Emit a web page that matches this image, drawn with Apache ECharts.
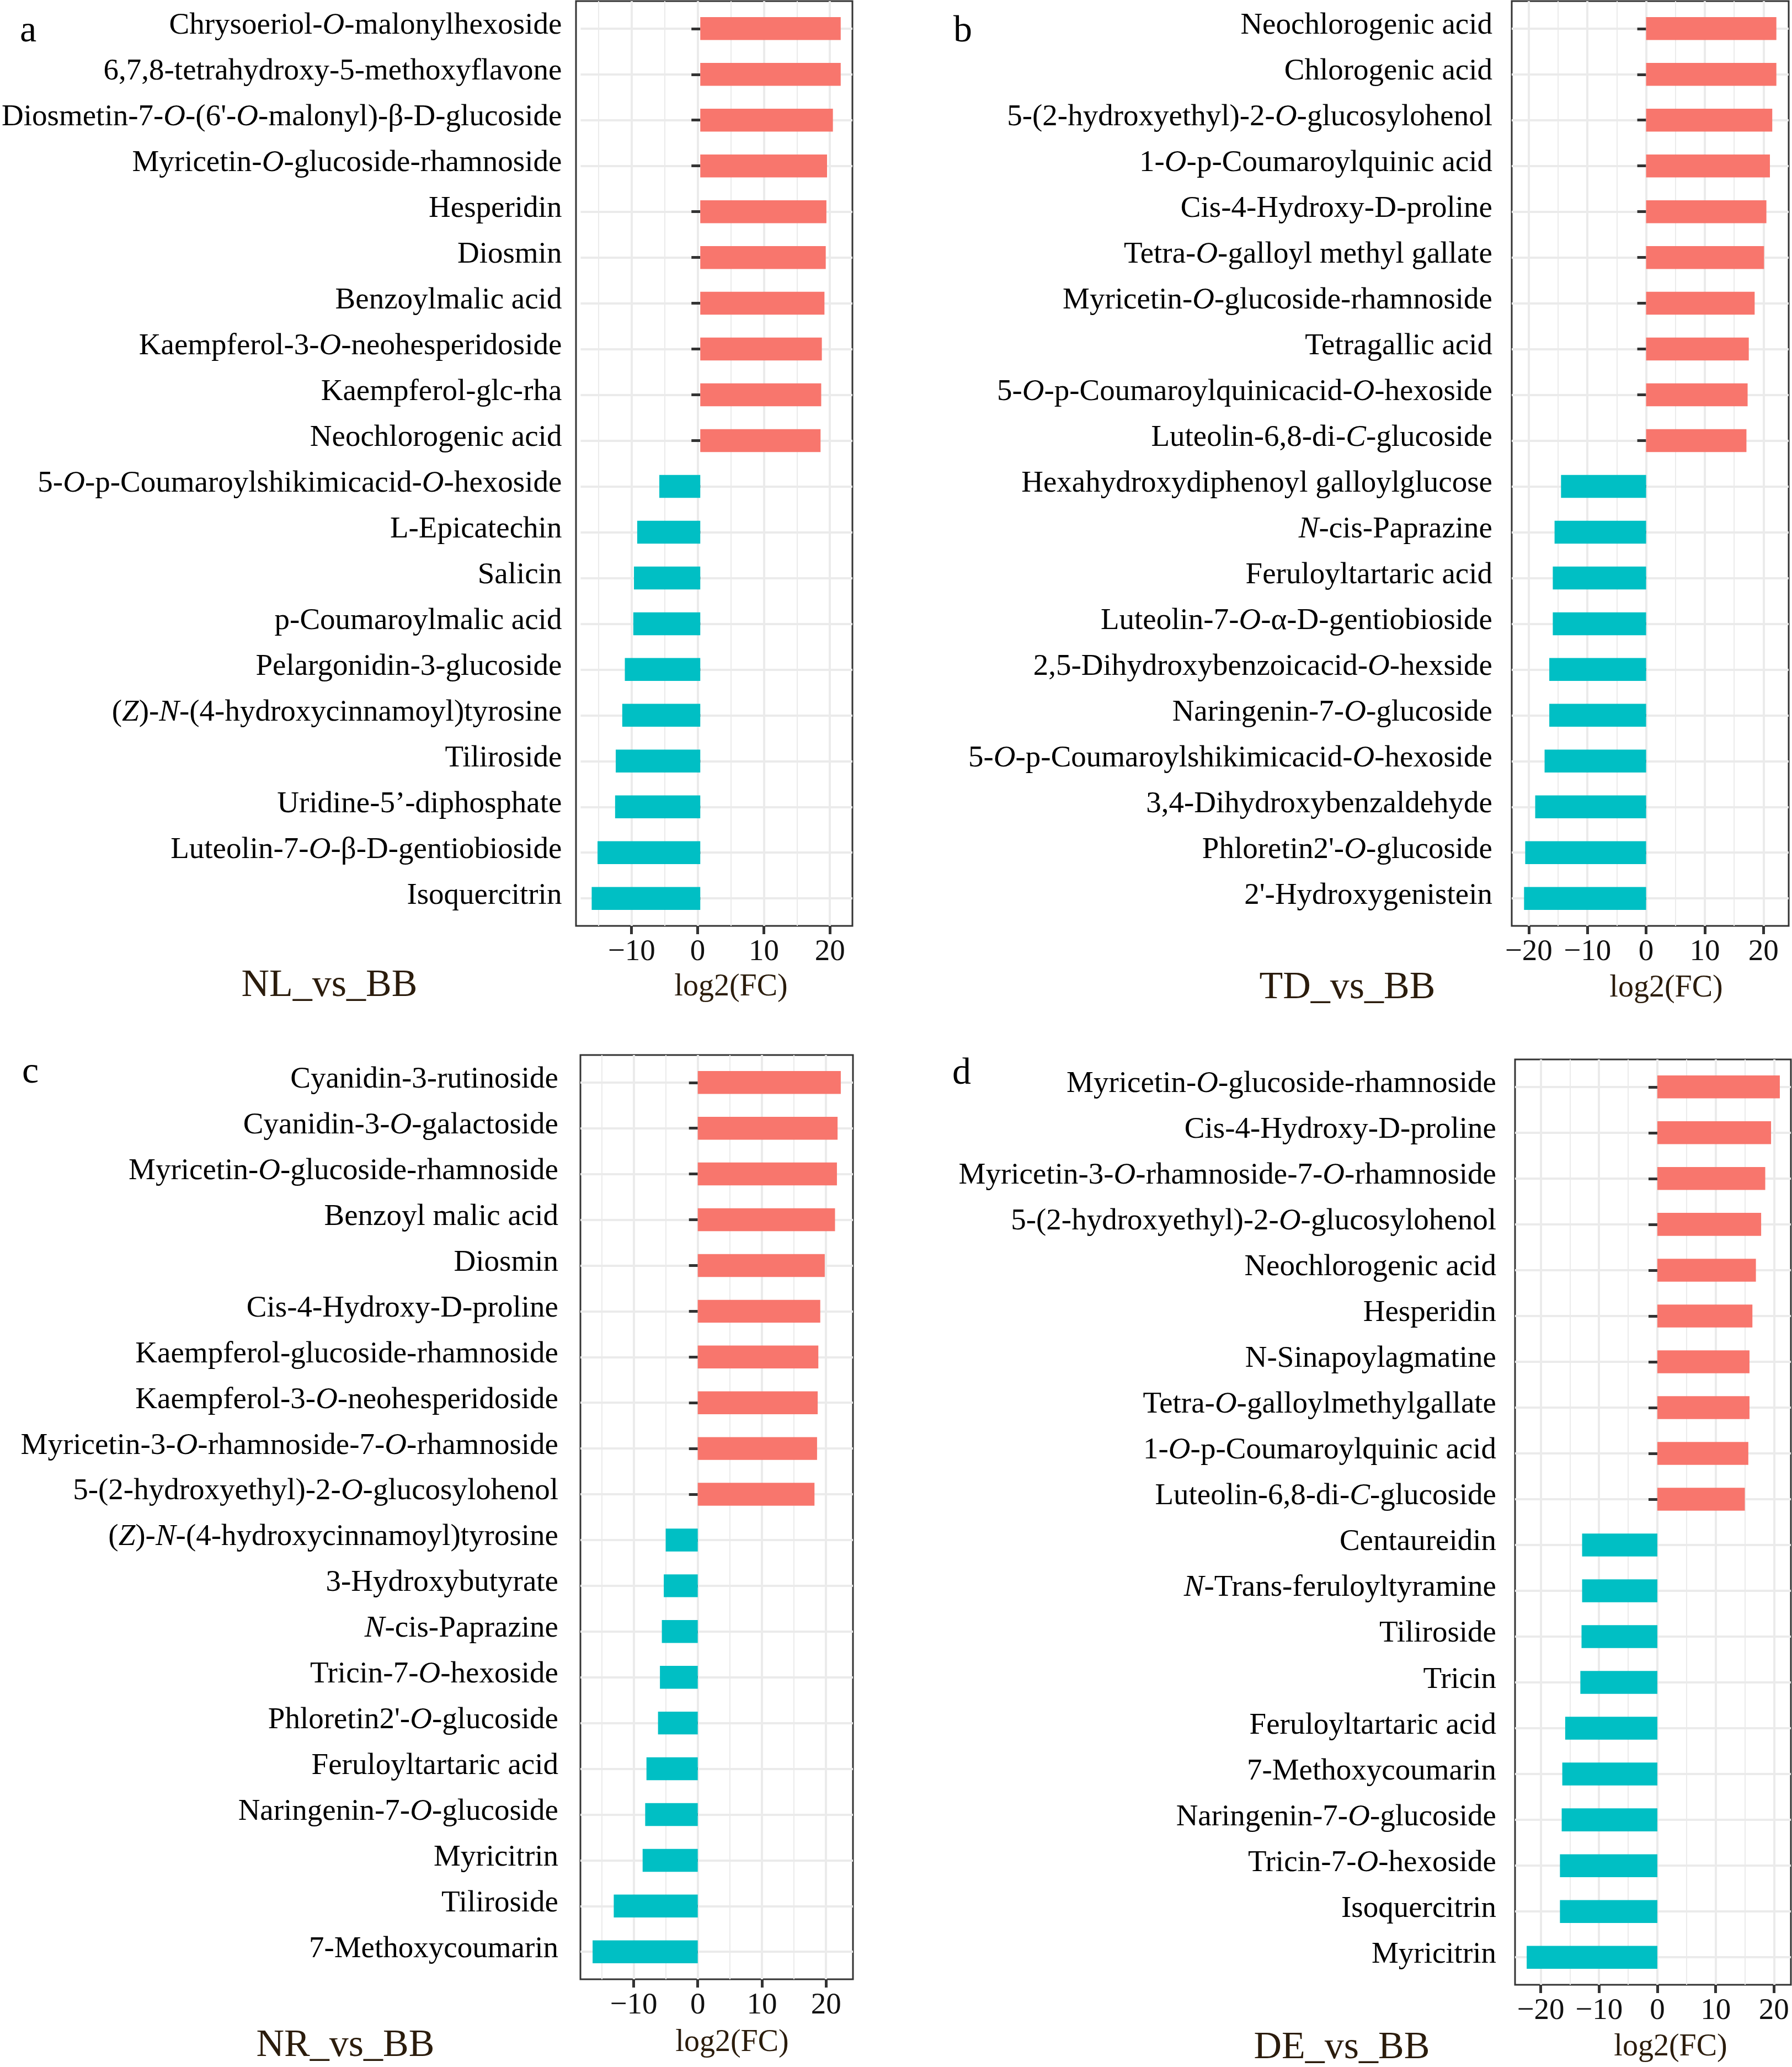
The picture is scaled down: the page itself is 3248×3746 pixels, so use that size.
<!DOCTYPE html>
<html>
<head>
<meta charset="utf-8">
<title>log2(FC) of differential metabolites</title>
<script src="https://cdn.jsdelivr.net/npm/echarts@6/dist/echarts.min.js"></script>
<style>
  html, body { margin: 0; padding: 0; background: #fff; }
  #main { width: 3248px; height: 3746px; }
</style>
</head>
<body>
<div id="main"></div>
<script>
// names top -> bottom, <i>..</i> marks italic parts
var namesNL = [
  'Chrysoeriol-<i>O</i>-malonylhexoside', '6,7,8-tetrahydroxy-5-methoxyflavone',
  "Diosmetin-7-<i>O</i>-(6'-<i>O</i>-malonyl)-β-D-glucoside", 'Myricetin-<i>O</i>-glucoside-rhamnoside',
  'Hesperidin', 'Diosmin', 'Benzoylmalic acid', 'Kaempferol-3-<i>O</i>-neohesperidoside',
  'Kaempferol-glc-rha', 'Neochlorogenic acid', '5-<i>O</i>-p-Coumaroylshikimicacid-<i>O</i>-hexoside',
  'L-Epicatechin', 'Salicin', 'p-Coumaroylmalic acid', 'Pelargonidin-3-glucoside',
  '(<i>Z</i>)-<i>N</i>-(4-hydroxycinnamoyl)tyrosine', 'Tiliroside', 'Uridine-5\u2019-diphosphate',
  'Luteolin-7-<i>O</i>-β-D-gentiobioside', 'Isoquercitrin'
]
var valuesNL = [21.6, 21.6, 20.4, 19.5, 19.4, 19.3, 19.1, 18.7, 18.6, 18.5,
  -6.3, -9.7, -10.2, -10.3, -11.6, -12.0, -13.0, -13.1, -15.8, -16.7]

var namesTD = [
  'Neochlorogenic acid', 'Chlorogenic acid', '5-(2-hydroxyethyl)-2-<i>O</i>-glucosylohenol',
  '1-<i>O</i>-p-Coumaroylquinic acid', 'Cis-4-Hydroxy-D-proline', 'Tetra-<i>O</i>-galloyl methyl gallate',
  'Myricetin-<i>O</i>-glucoside-rhamnoside', 'Tetragallic acid', '5-<i>O</i>-p-Coumaroylquinicacid-<i>O</i>-hexoside',
  'Luteolin-6,8-di-<i>C</i>-glucoside', 'Hexahydroxydiphenoyl galloylglucose', '<i>N</i>-cis-Paprazine',
  'Feruloyltartaric acid', 'Luteolin-7-<i>O</i>-α-D-gentiobioside', '2,5-Dihydroxybenzoicacid-<i>O</i>-hexside',
  'Naringenin-7-<i>O</i>-glucoside', '5-<i>O</i>-p-Coumaroylshikimicacid-<i>O</i>-hexoside',
  '3,4-Dihydroxybenzaldehyde', "Phloretin2'-<i>O</i>-glucoside", "2'-Hydroxygenistein"
]
var valuesTD = [22.2, 22.2, 21.5, 21.1, 20.5, 20.1, 18.5, 17.5, 17.3, 17.1,
  -14.5, -15.6, -15.9, -15.9, -16.5, -16.5, -17.3, -18.9, -20.6, -20.8]

var namesNR = [
  'Cyanidin-3-rutinoside', 'Cyanidin-3-<i>O</i>-galactoside', 'Myricetin-<i>O</i>-glucoside-rhamnoside',
  'Benzoyl malic acid', 'Diosmin', 'Cis-4-Hydroxy-D-proline', 'Kaempferol-glucoside-rhamnoside',
  'Kaempferol-3-<i>O</i>-neohesperidoside', 'Myricetin-3-<i>O</i>-rhamnoside-7-<i>O</i>-rhamnoside',
  '5-(2-hydroxyethyl)-2-<i>O</i>-glucosylohenol', '(<i>Z</i>)-<i>N</i>-(4-hydroxycinnamoyl)tyrosine',
  '3-Hydroxybutyrate', '<i>N</i>-cis-Paprazine', 'Tricin-7-<i>O</i>-hexoside', "Phloretin2'-<i>O</i>-glucoside",
  'Feruloyltartaric acid', 'Naringenin-7-<i>O</i>-glucoside', 'Myricitrin', 'Tiliroside', '7-Methoxycoumarin'
]
var valuesNR = [22.3, 21.8, 21.7, 21.4, 19.8, 19.1, 18.8, 18.7, 18.6, 18.2,
  -5.0, -5.3, -5.6, -5.9, -6.2, -8.0, -8.2, -8.6, -13.1, -16.4]

var namesDE = [
  'Myricetin-<i>O</i>-glucoside-rhamnoside', 'Cis-4-Hydroxy-D-proline',
  'Myricetin-3-<i>O</i>-rhamnoside-7-<i>O</i>-rhamnoside', '5-(2-hydroxyethyl)-2-<i>O</i>-glucosylohenol',
  'Neochlorogenic acid', 'Hesperidin', 'N-Sinapoylagmatine', 'Tetra-<i>O</i>-galloylmethylgallate',
  '1-<i>O</i>-p-Coumaroylquinic acid', 'Luteolin-6,8-di-<i>C</i>-glucoside', 'Centaureidin',
  '<i>N</i>-Trans-feruloyltyramine', 'Tiliroside', 'Tricin', 'Feruloyltartaric acid', '7-Methoxycoumarin',
  'Naringenin-7-<i>O</i>-glucoside', 'Tricin-7-<i>O</i>-hexoside', 'Isoquercitrin', 'Myricitrin'
]
var valuesDE = [21.0, 19.5, 18.5, 17.8, 16.9, 16.3, 15.8, 15.8, 15.6, 15.0,
  -12.9, -12.9, -13.0, -13.2, -15.8, -16.3, -16.4, -16.7, -16.7, -22.4]

var ticksShort = [-10, 0, 10, 20]
var ticksLong = [-20, -10, 0, 10, 20]
var minorTicks = [-15, -5, 5, 15]

var UP = '#F8766D'
var DOWN = '#00BFC4'
var FONT = '"Liberation Serif", "Times New Roman", serif'
var TITLE_COLOR = '#2b1c0c'

// box = [left, top, right, bottom] of the panel border
var panels = [
  { letter: 'a', title: 'NL_vs_BB', names: namesNL, values: valuesNL, ticks: ticksShort,
    box: [1044, 2, 1545, 1678], range: [-18.4, 23.4], labelGap: 34,
    letterPos: [36, 57], titlePos: [597, 1787], namePos: [1325, 1789] },
  { letter: 'b', title: 'TD_vs_BB', names: namesTD, values: valuesTD, ticks: ticksLong,
    box: [2740, 2, 3242, 1678], range: [-22.9, 24.3], labelGap: 35,
    letterPos: [1728, 57], titlePos: [2442, 1791], namePos: [3020, 1791] },
  { letter: 'c', title: 'NR_vs_BB', names: namesNR, values: valuesNR, ticks: ticksShort,
    box: [1052, 1912, 1546, 3587], range: [-18.3, 24.2], labelGap: 40,
    letterPos: [40, 1944], titlePos: [626, 3708], namePos: [1327, 3702] },
  { letter: 'd', title: 'DE_vs_BB', names: namesDE, values: valuesDE, ticks: ticksLong,
    box: [2746, 1920, 3246, 3597], range: [-24.4, 22.9], labelGap: 34,
    letterPos: [1726, 1946], titlePos: [2432, 3712], namePos: [3028, 3710] }
]

function richName(value) {
  var parts = value.split(/(<i>.*?<\/i>)/)
  var out = ''
  parts.forEach(function (p) {
    if (!p) return
    if (p.indexOf('<i>') === 0) out += '{i|' + p.slice(3, -4) + '}'
    else out += '{n|' + p + '}'
  })
  return out
}

function tickText(v) {
  return v < 0 ? '\u2212' + (-v) : String(v)
}

var grids = []
var xAxes = []
var yAxes = []
var series = []
var graphics = []

panels.forEach(function (p, k) {
  var left = p.box[0], top = p.box[1], width = p.box[2] - p.box[0], height = p.box[3] - p.box[1]
  var band = height / (p.names.length + 0.2)
  var pad = band * 0.1
  var outer = k * 2, inner = k * 2 + 1

  grids.push({ left: left, top: top, width: width, height: height, show: true,
    borderColor: '#333333', borderWidth: 3, backgroundColor: 'transparent' })
  grids.push({ left: left, top: top + pad, width: width, height: height - 2 * pad })

  // major vertical grid, ticks and labels
  xAxes.push({
    type: 'value', gridIndex: outer, min: p.range[0], max: p.range[1], position: 'bottom',
    axisLine: { show: false },
    axisTick: { show: true, customValues: p.ticks, length: 15, lineStyle: { color: '#333', width: 5 } },
    axisLabel: { customValues: p.ticks, formatter: tickText, margin: 20,
      fontFamily: FONT, fontSize: 55, color: '#111' },
    splitLine: { show: true, lineStyle: { color: '#ebebeb', width: 4 } }
  })
  // minor vertical grid
  xAxes.push({
    type: 'value', gridIndex: outer, min: p.range[0], max: p.range[1], position: 'bottom',
    axisLine: { show: false },
    axisTick: { show: false, customValues: minorTicks },
    axisLabel: { show: false, customValues: minorTicks },
    splitLine: { show: true, lineStyle: { color: '#ebebeb', width: 2 } }
  })
  yAxes.push({ type: 'value', gridIndex: outer, min: 0, max: 1, show: false })

  xAxes.push({ type: 'value', gridIndex: inner, min: p.range[0], max: p.range[1], show: false })
  yAxes.push({
    type: 'category', gridIndex: inner, data: p.names, inverse: true,
    axisLine: { show: false },
    axisTick: { show: true, alignWithLabel: true, length: 16, lineStyle: { color: '#333', width: 5 } },
    axisLabel: {
      margin: p.labelGap, formatter: richName, fontFamily: FONT, fontSize: 55, color: '#000',
      padding: [0, 0, 10, 0],
      rich: {
        n: { fontFamily: FONT, fontSize: 55, color: '#000' },
        i: { fontFamily: FONT, fontSize: 55, color: '#000', fontStyle: 'italic' }
      }
    },
    splitLine: { show: true, alignWithLabel: true, lineStyle: { color: '#ebebeb', width: 4 } }
  })

  series.push({
    type: 'bar', name: p.title,
    xAxisIndex: k * 3 + 2, yAxisIndex: inner,
    data: p.values, barWidth: '50%',
    itemStyle: { color: function (d) { return d.value >= 0 ? UP : DOWN } }
  })

  graphics.push({ type: 'text', x: p.letterPos[0], y: p.letterPos[1],
    style: { text: p.letter, fontFamily: FONT, fontSize: 68, fill: '#000', align: 'left', verticalAlign: 'middle' } })
  graphics.push({ type: 'text', x: p.titlePos[0], y: p.titlePos[1],
    style: { text: p.title, fontFamily: FONT, fontSize: 70, fill: TITLE_COLOR, align: 'center', verticalAlign: 'middle' } })
  graphics.push({ type: 'text', x: p.namePos[0], y: p.namePos[1],
    style: { text: 'log2(FC)', fontFamily: FONT, fontSize: 56, fill: TITLE_COLOR, align: 'center', verticalAlign: 'middle' } })
})

var chart = echarts.init(document.getElementById('main'), null, { renderer: 'canvas' })
chart.setOption({
  animation: false,
  backgroundColor: '#ffffff',
  grid: grids,
  xAxis: xAxes,
  yAxis: yAxes,
  series: series,
  graphic: graphics
})
</script>
</body>
</html>
